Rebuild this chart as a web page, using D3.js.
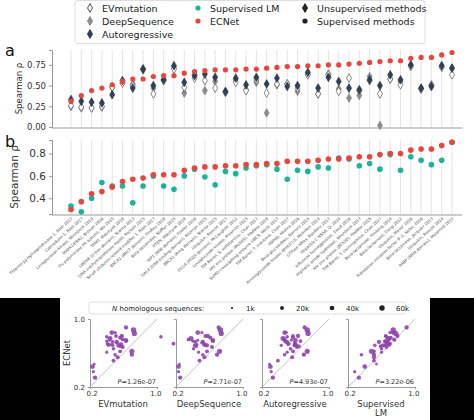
<!DOCTYPE html>
<html><head><meta charset="utf-8">
<script src="https://cdn.jsdelivr.net/npm/d3@7"></script>
<style>body{margin:0;background:#fff}svg{display:block;font-family:"DejaVu Sans",sans-serif}</style>
</head><body><svg id="c" width="474" height="420"></svg>
<script>
// datasets, sorted by ECNet score
const datasets = ["Thiamin pyrophosphokinase 1, Roth 2017","Calmodulin-1, Roth 2017","Levoglucosan kinase, Wrenbeck 2019","MAPK1/ERK2, Brenan 2016","Flu polymerase PA subunit, Wu 2015","TPMT, Matreyek 2018","UBE4B (U-box domain), Starita 2013","DNA methyltransferase HaeIII, Rockah 2015","Small ubiquitin-related modifier 1, Roth 2017","BRCA1 (BRCT domain), Findlay 2018","Beta-lactamase, Stiffler 2015","PTEN, Matreyek 2018","YAP1 (WW domain), Fowler 2010","GAL4 (DNA-binding domain), Kitzman 2015","BRCA1 (Ring domain), Starita 2015","Ubiquitin, Roscoe 2013","DLG4 (PDZ3 domain), McLaughlin 2012","Levoglucosan kinase, Klesmith 2015","TIM Barrel, S. solfataricus, Chan 2017","HIV env protein (BG505), Haddox 2018","SUMO-conjugating enzyme UBC9, Weile 2017","TIM Barrel, T. maritima, Chan 2017","HSP90, Mishra 2016","Beta-glucosidase, Romero 2015","Aminoglycoside kinase APH(3')-II, Melnikov 2014","GTPase HRas, Bandaru 2017","Hepatitis C NS5A, Qi 2014","Influenza hemagglutinin, Doud 2016","Aliphatic amide hydrolase, Wrenbeck 2017","HIV env protein (BF520), Haddox 2018","TIM Barrel, T. thermophilus, Chan 2017","Beta-lactamase, Firnberg 2014","Beta-lactamase, Deng 2012","Ubiquitin, Mavor 2016","Translation initiation factor IF-1, Kelsic 2016","Beta-lactamase, Jacquier 2013","Ubiquitin, Roscoe 2014","PABP (RRM domain), Melamed 2013"];
const ecnetA = [0.31,0.38,0.44,0.47,0.51,0.55,0.58,0.58,0.61,0.62,0.62,0.65,0.67,0.68,0.69,0.69,0.69,0.70,0.70,0.71,0.72,0.73,0.73,0.74,0.74,0.75,0.75,0.76,0.77,0.78,0.79,0.80,0.80,0.83,0.84,0.84,0.87,0.90];
const evmutation = [0.26,0.24,0.23,0.25,0.48,0.53,0.50,0.70,0.40,0.56,0.70,0.48,0.59,0.56,0.47,0.42,0.54,0.44,0.57,0.41,0.52,0.52,0.47,0.63,0.40,0.63,0.43,0.59,0.44,0.56,0.40,0.58,0.51,0.73,0.46,0.50,0.72,0.63];
const deepSequence = [0.25,0.23,0.23,0.24,0.48,0.54,0.52,0.69,0.47,0.57,0.72,0.41,0.63,0.44,0.55,0.42,0.57,0.45,0.54,0.17,0.51,0.52,0.43,0.64,0.40,0.64,0.46,0.35,0.38,0.61,0.02,0.58,0.55,0.74,0.46,0.51,0.73,0.71];
const autoregressive = [0.33,0.31,0.30,0.29,0.39,0.56,0.47,0.70,0.50,0.57,0.74,0.54,0.62,0.64,0.60,0.43,0.59,0.51,0.60,0.52,0.59,0.49,0.50,0.66,0.47,0.60,0.55,0.47,0.45,0.57,0.50,0.63,0.57,0.75,0.47,0.49,0.74,0.71];
const ecnetB = [0.30,0.37,0.44,0.46,0.50,0.55,0.57,0.58,0.61,0.61,0.61,0.65,0.67,0.68,0.68,0.69,0.69,0.70,0.70,0.71,0.71,0.73,0.73,0.73,0.74,0.75,0.75,0.76,0.77,0.77,0.79,0.80,0.80,0.83,0.84,0.84,0.87,0.90];
const supervisedLM = [0.33,0.28,0.40,0.54,0.51,0.51,0.36,0.51,0.60,0.51,0.48,0.60,0.66,0.59,0.52,0.64,0.62,0.67,0.69,0.70,0.66,0.57,0.65,0.64,0.68,0.67,0.76,0.75,0.69,0.71,0.66,0.79,0.65,0.77,0.74,0.70,0.74,0.90];
// number of homologous sequences (thousands), estimated
const nHomologs = [30,10,40,5,20,25,15,30,10,20,50,15,25,20,15,10,30,10,40,20,15,30,25,20,10,35,5,20,45,25,15,30,20,55,40,10,60,30];
const sizeTicks = [1,20,40,60];
const sizeTickLabels = ["1k","20k","40k","60k"];
const methods = ["EVmutation","DeepSequence","Autoregressive","Supervised LM"];
const pValues = ["P=1.26e-07","P=2.71e-07","P=4.93e-07","P=3.22e-06"];

const svg = d3.select("#c");
const red = "#e8453c", teal = "#1db39a", navy = "#2e3f56", gray = "#8c8c8c";

// legend
const leg = svg.append("g");
leg.append("rect").attr("x",75).attr("y",0.5).attr("width",350).attr("height",43).attr("rx",3)
  .attr("fill","#fff").attr("stroke","#ddd");
const diamond = d3.symbol(d3.symbolDiamond, 22);
const legItems = [
  {t:"EVmutation",c:0,r:0,k:"d",fill:"#fff",stroke:"#555"},
  {t:"DeepSequence",c:0,r:1,k:"d",fill:gray,stroke:gray},
  {t:"Autoregressive",c:0,r:2,k:"d",fill:navy,stroke:navy},
  {t:"Supervised LM",c:1,r:0,k:"o",fill:teal},
  {t:"ECNet",c:1,r:1,k:"o",fill:red},
  {t:"Unsupervised methods",c:2,r:0,k:"d",fill:"#222",stroke:"#222"},
  {t:"Supervised methods",c:2,r:1,k:"o",fill:"#222"}];
const colX = [90,198,305];
legItems.forEach(d => {
  const x = colX[d.c], y = 8 + d.r*13;
  if (d.k === "d") leg.append("path").attr("d",diamond).attr("transform",`translate(${x},${y})`)
    .attr("fill",d.fill).attr("stroke",d.stroke);
  else leg.append("circle").attr("cx",x).attr("cy",y).attr("r",2.6).attr("fill",d.fill);
  leg.append("text").attr("x",x+12).attr("y",y+3.5).attr("font-size",9.5).attr("fill","#222").text(d.t);
});

const x = d3.scalePoint().domain(datasets).range([71,452]);

function panel(top, bottom, domain, ticks, fmt, label, lab) {
  const y = d3.scaleLinear().domain(domain).range([bottom, top]);
  const g = svg.append("g");
  g.selectAll("line.v").data(datasets).join("line").attr("x1",d=>x(d)).attr("x2",d=>x(d))
    .attr("y1",top).attr("y2",bottom).attr("stroke","#ddd").attr("stroke-width",0.8);
  const ax = g.append("g").attr("transform","translate(52,0)").call(d3.axisLeft(y).tickValues(ticks).tickFormat(fmt).tickSize(3));
  ax.select(".domain").attr("stroke","#999");
  ax.selectAll("text").attr("font-size",lab.fs).attr("fill","#333").attr("font-family","DejaVu Sans");
  ax.selectAll(".tick line").attr("stroke","#999");
  g.append("line").attr("x1",52).attr("x2",462).attr("y1",bottom+1).attr("y2",bottom+1).attr("stroke","#999");
  g.append("text").attr("transform",`translate(${lab.x},${(top+bottom)/2}) rotate(-90)`).attr("text-anchor","middle")
    .attr("font-size",lab.fs).attr("fill","#333").text("Spearman \u03C1");
  svg.append("text").attr("x",5).attr("y",lab.ly).attr("font-size",16).attr("fill","#111").text(label);
  return {g,y};
}

const pa = panel(50, 127, [0, 0.93], [0,0.25,0.5,0.75], d3.format(".2f"), "a", {x:22, fs:8.5, ly:56});
const addDiamonds = (p, vals, fill, stroke) => p.g.selectAll(null).data(vals).join("path")
  .attr("d",diamond).attr("transform",(v,i)=>`translate(${x(datasets[i])},${p.y(v)})`)
  .attr("fill",fill).attr("stroke",stroke).attr("stroke-width",0.7);
addDiamonds(pa, deepSequence, gray, gray);
addDiamonds(pa, evmutation, "#fff", "#555");
addDiamonds(pa, autoregressive, navy, navy);
pa.g.selectAll(null).data(ecnetA).join("circle").attr("cx",(v,i)=>x(datasets[i])).attr("cy",v=>pa.y(v))
  .attr("r",2.6).attr("fill",red);

const pb = panel(140, 214, [0.26, 0.92], [0.4,0.6,0.8], d3.format(".1f"), "b", {x:18, fs:10.5, ly:147});
pb.g.selectAll(null).data(supervisedLM).join("circle").attr("cx",(v,i)=>x(datasets[i])).attr("cy",v=>pb.y(v))
  .attr("r",2.8).attr("fill",teal);
pb.g.selectAll(null).data(ecnetB).join("circle").attr("cx",(v,i)=>x(datasets[i])).attr("cy",v=>pb.y(v))
  .attr("r",2.8).attr("fill",red);
svg.append("g").selectAll("text").data(datasets).join("text")
  .attr("transform",d=>`translate(${x(d)+2},${219}) rotate(-42)`).attr("text-anchor","end")
  .attr("font-size",4).attr("fill","#444").text(d=>d);

// bottom part: black surroundings
svg.append("rect").attr("x",0).attr("y",298).attr("width",60).attr("height",122).attr("fill","#000");
svg.append("rect").attr("x",430).attr("y",298).attr("width",44).attr("height",122).attr("fill","#000");

const rScale = d3.scaleSqrt().domain([1,60]).range([1.1,2.7]);
const bl = svg.append("g");
bl.append("rect").attr("x",89).attr("y",302).attr("width",316).attr("height",12).attr("rx",2)
  .attr("fill","#fff").attr("stroke","#ddd");
bl.append("text").attr("x",112).attr("y",311).attr("font-size",7).attr("fill","#222")
  .html('<tspan font-style="italic">N</tspan> homologous sequences:');
sizeTicks.forEach((s,i)=>{
  const cx = 232 + i*50;
  bl.append("circle").attr("cx",cx).attr("cy",308).attr("r",rScale(s)).attr("fill","#222");
  bl.append("text").attr("x",cx+14).attr("y",311).attr("font-size",7).attr("fill","#222").text(sizeTickLabels[i]);
});

const methodVals = [evmutation, deepSequence, autoregressive, supervisedLM];
methods.forEach((m,k)=>{
  const x0 = 90 + k*86;
  const sx = d3.scaleLinear().domain([0.2,1]).range([x0, x0+67]);
  const sy = d3.scaleLinear().domain([0.2,1]).range([387, 319]);
  const g = svg.append("g");
  g.append("line").attr("x1",sx(0.2)).attr("y1",sy(0.2)).attr("x2",sx(1)).attr("y2",sy(1)).attr("stroke","#aaa").attr("stroke-width",0.7);
  [["x",d3.axisBottom(sx),`translate(0,${sy(0.2)})`],["y",d3.axisLeft(sy),`translate(${x0},0)`]].forEach(([t,a,tr])=>{
    const ax = g.append("g").attr("transform",tr).call(a.tickValues([0.2,1]).tickFormat(d3.format(".1f")).tickSize(2));
    ax.select(".domain").attr("stroke","#999");
    ax.selectAll(".tick line").attr("stroke","#999");
    ax.selectAll("text").attr("font-size",7).attr("fill","#333").attr("font-family","DejaVu Sans");
    if (t==="x") {
      ax.selectAll(".tick text").attr("text-anchor",(d)=>d===1?"end":"start").attr("dx",d=>d===1?"4":"-4").attr("dy","0.6em");
    }
    if (t==="y" && k>0) ax.selectAll("text").remove();
  });
  g.selectAll("circle").data(methodVals[k]).join("circle").attr("cx",v=>sx(v)).attr("cy",(v,i)=>sy(ecnetA[i]))
    .attr("r",(v,i)=>rScale(nHomologs[i])).attr("fill","#8e44ad").attr("fill-opacity",0.9);
  g.append("text").attr("x",x0+66).attr("y",384).attr("text-anchor","end").attr("font-size",6.5).attr("fill","#333")
    .html(`<tspan font-style="italic">P</tspan>${pValues[k].slice(1)}`);
  const words = m === "Supervised LM" ? ["Supervised","LM"] : [m];
  words.forEach((w,j)=>g.append("text").attr("x",x0+33).attr("y",407+j*9).attr("text-anchor","middle")
    .attr("font-size",8.5).attr("fill","#333").text(w));
});
svg.append("text").attr("transform","translate(70,353) rotate(-90)").attr("text-anchor","middle")
  .attr("font-size",8.5).attr("fill","#333").text("ECNet");
</script></body></html>
